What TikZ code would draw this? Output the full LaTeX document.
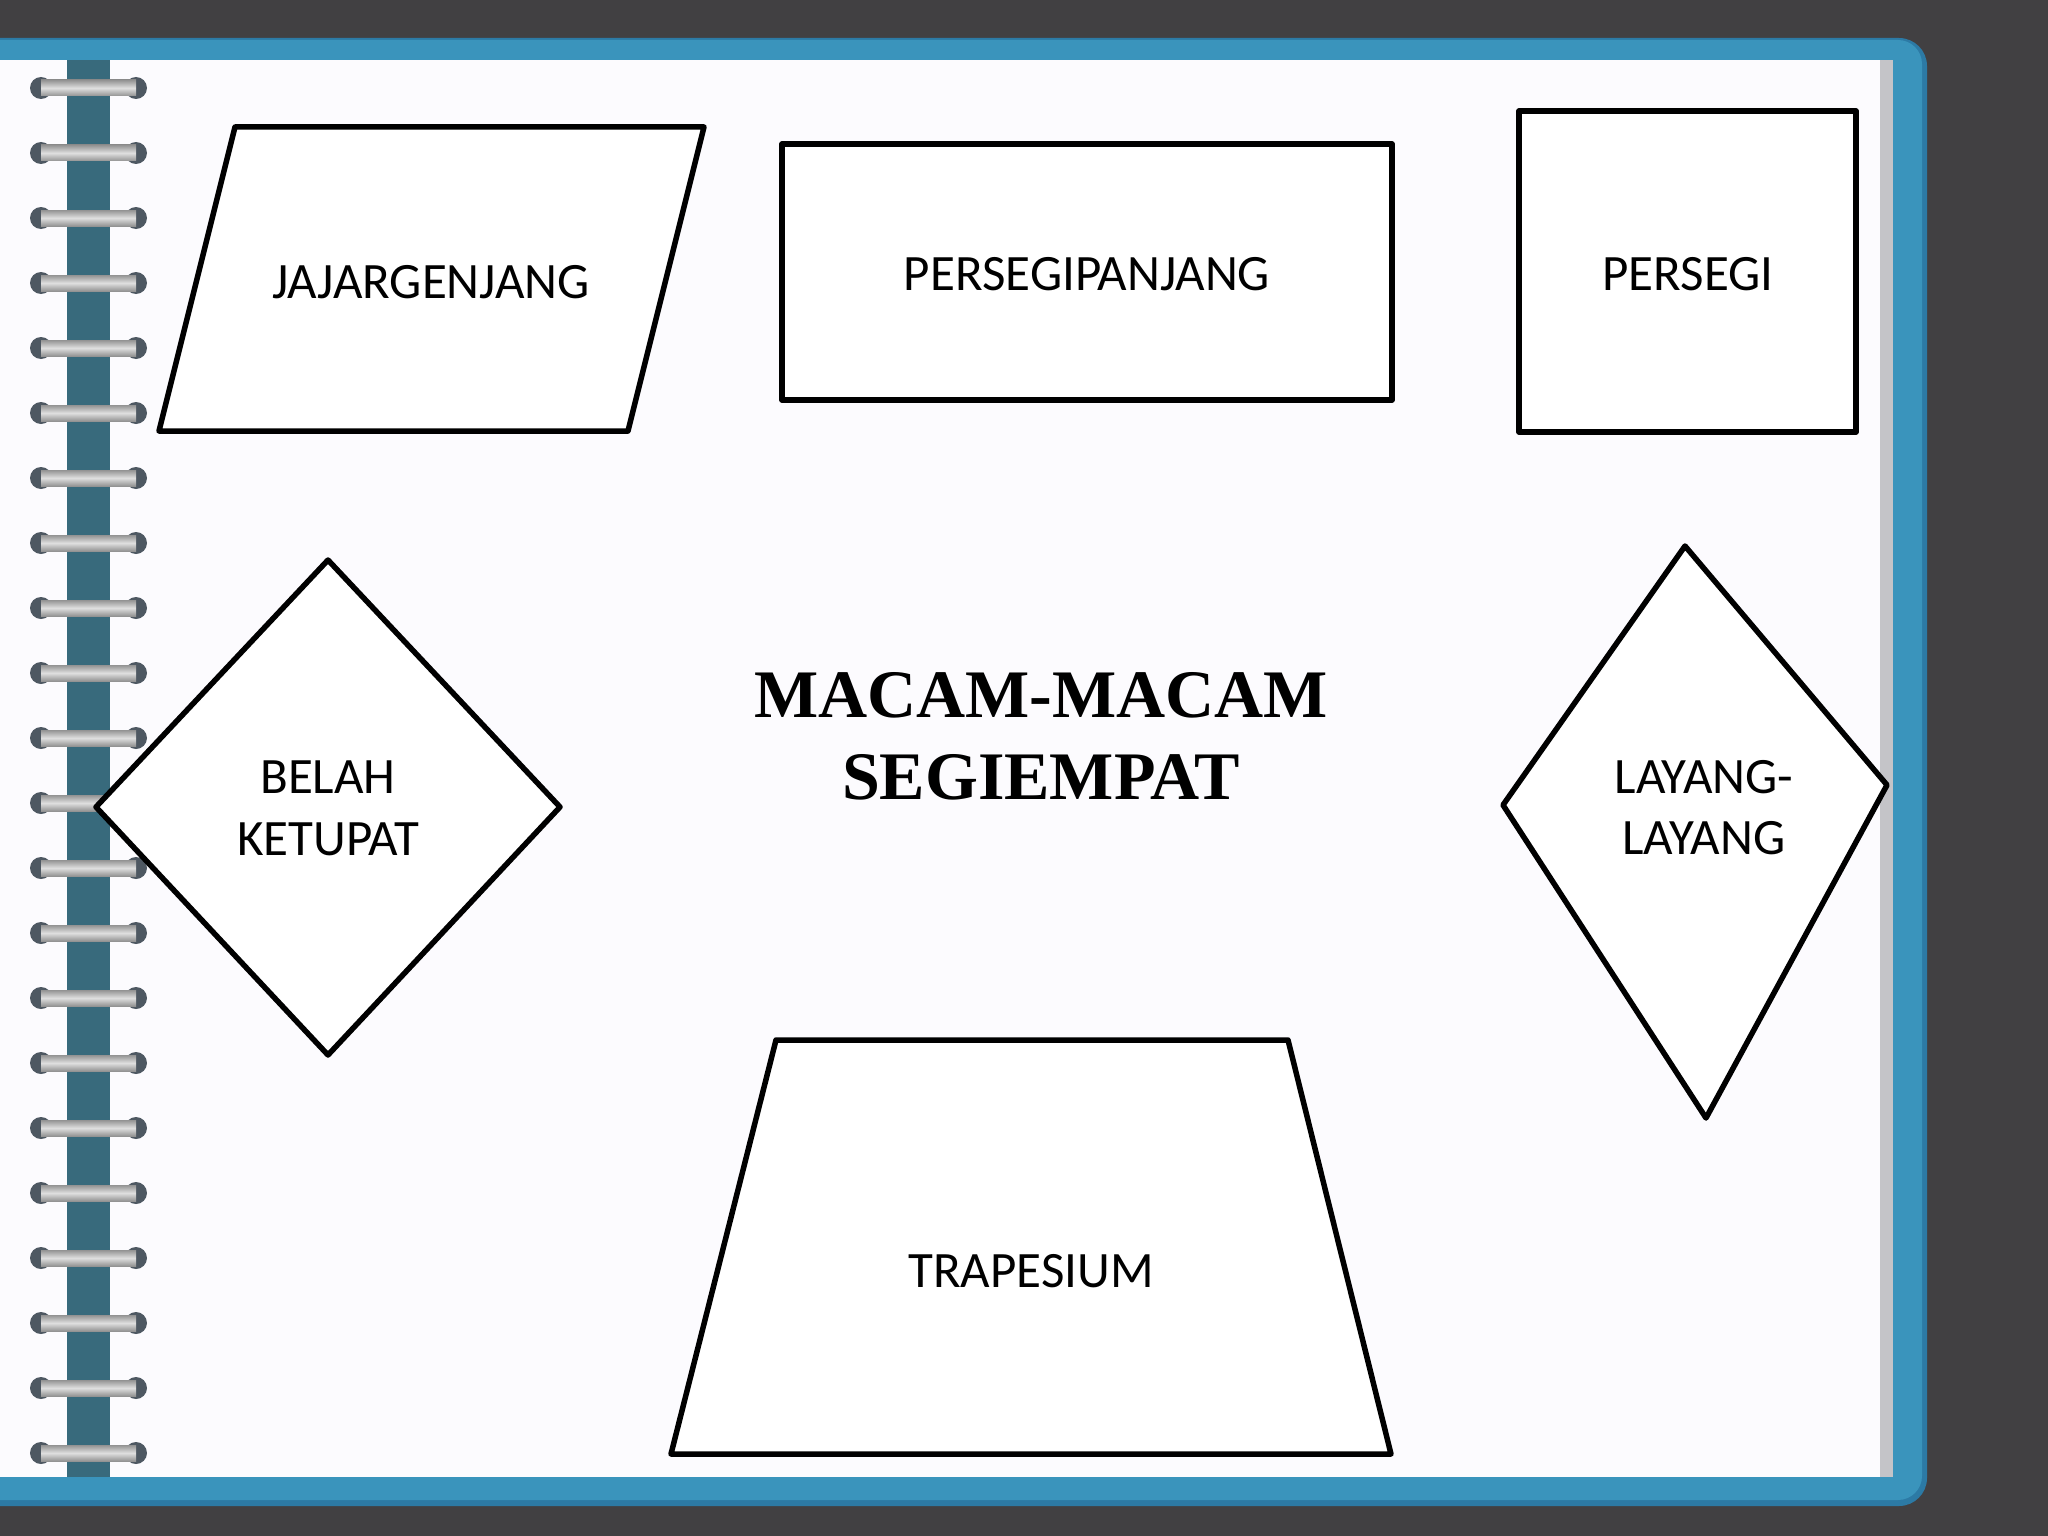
\documentclass[tikz,border=0pt]{standalone}
\usepackage{fontspec}
\setmainfont{Carlito}
\newfontfamily\titlefont{Liberation Serif}
\definecolor{bgdark}{RGB}{65,64,66}
\definecolor{frameblue}{RGB}{58,148,188}
\definecolor{frameedge}{RGB}{44,122,165}
\definecolor{pagewhite}{RGB}{252,251,254}
\definecolor{pagegray}{RGB}{196,196,200}
\definecolor{spinecol}{RGB}{56,106,124}
\definecolor{ringdark}{RGB}{78,88,98}
\begin{document}
\begin{tikzpicture}[x=1pt,y=-1pt,
  shapeline/.style={draw=black,line width=5.5pt,fill=white,line join=round},
  lbl/.style={font=\fontsize{51}{62}\selectfont,inner sep=0pt,anchor=base},
  ttl/.style={font=\titlefont\bfseries\fontsize{68}{82}\selectfont,inner sep=0pt,anchor=base}]
\useasboundingbox (0,0) rectangle (2048,1536);
% background and notebook
\fill[bgdark] (0,0) rectangle (2048,1536);
\fill[frameedge,rounded corners=28pt] (-60,38) rectangle (1927,1506);
\fill[frameblue,rounded corners=24pt] (-60,40) rectangle (1922,1500);
\fill[pagewhite] (0,60) rectangle (1880,1477);
\fill[pagegray] (1880,60) rectangle (1893,1477);
\fill[spinecol] (67,60) rectangle (110,1477);
% spiral rings
\foreach \i in {0,...,21}{
  \pgfmathsetmacro{\yy}{88+65*\i}
  \fill[ringdark] (41,\yy) circle (11pt);
  \fill[ringdark] (136,\yy) circle (11pt);
  \shade[top color=gray!85,bottom color=gray!85,middle color=gray!25] (41,\yy-8) rectangle (136,\yy+8);
}
% JAJARGENJANG
\coordinate (j1) at (235,127);
\coordinate (j2) at (704,127);
\coordinate (j3) at (628,431);
\coordinate (j4) at (159,431);
\draw[shapeline] (j1) -- (j2) -- (j3) -- (j4) -- cycle;
\node[lbl] (tj) at (431,298) {JAJARGENJANG};
% PERSEGIPANJANG
\coordinate (p1) at (782,144);
\coordinate (p2) at (1392,400);
\draw[shapeline] (p1) rectangle (p2);
\node[lbl] (tp) at (1087,290) {PERSEGIPANJANG};
% PERSEGI
\coordinate (s1) at (1519,111);
\coordinate (s2) at (1856,432);
\draw[shapeline] (s1) rectangle (s2);
\node[lbl] (ts) at (1688,290) {PERSEGI};
% BELAH KETUPAT
\coordinate (b1) at (328,560);
\coordinate (b2) at (560,807);
\coordinate (b3) at (328,1055);
\coordinate (b4) at (96,807);
\draw[shapeline] (b1) -- (b2) -- (b3) -- (b4) -- cycle;
\node[lbl] (tb1) at (328,793) {BELAH};
\node[lbl] (tb2) at (328,855) {KETUPAT};
% LAYANG-LAYANG
\coordinate (l1) at (1685,546);
\coordinate (l2) at (1887,785);
\coordinate (l3) at (1706,1118);
\coordinate (l4) at (1503,805);
\draw[shapeline] (l1) -- (l2) -- (l3) -- (l4) -- cycle;
\node[lbl] (tl1) at (1704,793) {LAYANG-};
\node[lbl] (tl2) at (1704,854) {LAYANG};
% TRAPESIUM
\coordinate (t1) at (776,1040);
\coordinate (t2) at (1288,1040);
\coordinate (t3) at (1391,1454);
\coordinate (t4) at (671,1454);
\draw[shapeline] (t1) -- (t2) -- (t3) -- (t4) -- cycle;
\node[lbl] (tt) at (1031,1287) {TRAPESIUM};
% title
\node[ttl] (title1) at (1041,717) {MACAM-MACAM};
\node[ttl] (title2) at (1041,799) {SEGIEMPAT};
\end{tikzpicture}
\end{document}
